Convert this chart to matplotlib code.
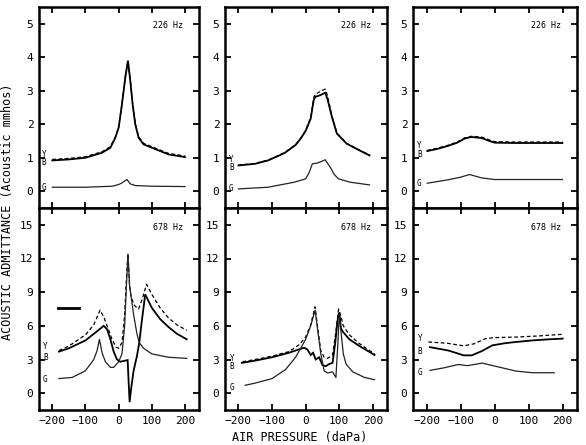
import matplotlib
matplotlib.use("Agg")
import matplotlib.pyplot as plt

plt.rcParams['font.family'] = ['DejaVu Sans Mono']

# ---------------- data ----------------
x_ticks = [-200, -100, 0, 100, 200]
top_yticks = [0, 1, 2, 3, 4, 5]
bot_yticks = [0, 3, 6, 9, 12, 15]
freq_top = "226 Hz"
freq_bot = "678 Hz"

# Top-left (226 Hz)
tl_bx = [-200, -150, -100, -50, -25, -10, 0, 10, 20, 28, 35, 42, 50, 60, 75, 100, 150, 200]
tl_b = [0.92, 0.95, 1.0, 1.15, 1.3, 1.6, 1.9, 2.6, 3.4, 3.9, 3.3, 2.6, 2.0, 1.6, 1.4, 1.3, 1.1, 1.02]
tl_yx = tl_bx
tl_y = [0.95, 0.98, 1.03, 1.18, 1.33, 1.62, 1.92, 2.62, 3.42, 3.88, 3.32, 2.62, 2.03, 1.63, 1.43, 1.33, 1.13, 1.05]
tl_gx = [-200, -100, -20, 0, 10, 25, 35, 50, 100, 200]
tl_g = [0.12, 0.12, 0.15, 0.2, 0.25, 0.35, 0.22, 0.17, 0.15, 0.14]

# Top-middle (226 Hz)
tm_bx = [-200, -150, -112, -63, -30, -15, 0, 15, 24, 29, 44, 58, 65, 78, 93, 122, 160, 190]
tm_b = [0.77, 0.82, 0.92, 1.14, 1.38, 1.57, 1.8, 2.17, 2.72, 2.82, 2.87, 2.94, 2.75, 2.22, 1.72, 1.42, 1.22, 1.07]
tm_yx = tm_bx
tm_y = [0.78, 0.83, 0.93, 1.15, 1.39, 1.58, 1.82, 2.2, 2.8, 2.9, 2.98, 3.05, 2.85, 2.25, 1.74, 1.43, 1.23, 1.08]
tm_gx = [-200, -112, -34, 0, 10, 20, 34, 45, 58, 73, 85, 98, 132, 190]
tm_g = [0.07, 0.12, 0.27, 0.37, 0.55, 0.82, 0.84, 0.88, 0.94, 0.72, 0.5, 0.37, 0.27, 0.19]

# Top-right (226 Hz)
tr_bx = [-198, -170, -138, -110, -89, -69, -39, -15, 0, 60, 120, 199]
tr_b = [1.2, 1.26, 1.35, 1.45, 1.57, 1.62, 1.59, 1.5, 1.45, 1.44, 1.44, 1.44]
tr_yx = tr_bx
tr_y = [1.22, 1.28, 1.37, 1.47, 1.59, 1.64, 1.62, 1.53, 1.48, 1.47, 1.47, 1.47]
tr_gx = [-198, -138, -100, -74, -39, 0, 60, 199]
tr_g = [0.24, 0.34, 0.42, 0.5, 0.4, 0.35, 0.35, 0.35]

# Bottom-left (678 Hz)
bl_bx = [-180, -150, -100, -70, -45, -35, -25, -15, -5, 5, 20, 27, 30, 33, 38, 45, 55, 62, 70, 80, 90, 100, 125, 150, 175, 205]
bl_b = [3.7, 4.0, 4.7, 5.4, 6.0, 5.7, 4.8, 3.7, 3.0, 2.8, 2.9, 2.95, 1.0, -0.8, 0.5, 2.0, 3.3, 4.5, 6.5, 8.8, 8.2, 7.6, 6.6, 5.9, 5.3, 4.8]
bl_yx = [-180, -150, -100, -75, -56, -45, -35, -20, -8, 0, 10, 18, 24, 28, 33, 38, 48, 60, 70, 84, 100, 125, 150, 175, 205]
bl_y = [3.8, 4.2, 5.2, 6.1, 7.4, 6.8, 6.0, 4.8, 4.1, 4.0, 4.5, 7.0, 10.5, 12.4, 9.5, 8.5, 7.8, 7.5, 8.3, 9.7, 8.8, 7.6, 6.7, 6.1, 5.6]
bl_gx = [-180, -140, -100, -75, -65, -58, -50, -40, -25, -15, 0, 10, 18, 24, 28, 33, 38, 45, 55, 62, 75, 100, 150, 205]
bl_g = [1.3, 1.4, 2.0, 3.0, 3.8, 4.8, 3.6, 2.8, 2.3, 2.3, 2.8, 3.5, 6.0, 10.0, 12.4, 9.5, 8.5, 7.0, 5.3, 4.5, 4.0, 3.5, 3.2, 3.1]
scale_bar_x = [-183, -120]
scale_bar_y = [7.6, 7.6]

# Bottom-middle (678 Hz)
bm_bx = [-190, -150, -100, -50, -20, -5, 5, 15, 22, 30, 40, 50, 60, 70, 80, 88, 95, 100, 105, 110, 130, 160, 205]
bm_b = [2.7, 2.9, 3.2, 3.6, 3.9, 4.05, 3.9, 3.4, 3.6, 3.0, 3.2, 2.5, 2.4, 2.6, 2.7, 4.5, 6.5, 7.2, 5.8, 5.5, 4.8, 4.2, 3.4]
bm_yx = [-188, -150, -100, -50, -20, 0, 15, 28, 35, 45, 55, 65, 80, 90, 98, 105, 112, 130, 156, 180, 205]
bm_y = [2.8, 3.0, 3.3, 3.7, 4.3, 5.0, 6.1, 7.7, 6.0, 3.8, 3.2, 3.1, 3.4, 5.5, 7.5, 6.8, 6.0, 5.2, 4.5, 4.0, 3.5]
bm_gx = [-180, -150, -100, -60, -30, 0, 15, 28, 35, 45, 55, 65, 80, 90, 96, 100, 105, 112, 120, 140, 175, 205]
bm_g = [0.7, 0.9, 1.3, 2.1, 3.2, 4.8, 6.0, 7.4, 5.8, 3.5, 2.0, 1.8, 1.9, 1.4, 4.5, 7.0, 5.5, 3.5, 2.6, 1.9, 1.4, 1.2]

# Bottom-right (678 Hz)
br_bx = [-190, -136, -91, -67, -37, -7, 30, 62, 111, 160, 200]
br_b = [4.1, 3.8, 3.37, 3.37, 3.76, 4.26, 4.45, 4.56, 4.7, 4.8, 4.86]
br_yx = [-195, -140, -91, -60, -27, 0, 62, 130, 200]
br_y = [4.56, 4.45, 4.22, 4.4, 4.86, 4.95, 5.0, 5.1, 5.25]
br_gx = [-190, -150, -106, -81, -37, 12, 62, 111, 175]
br_g = [2.03, 2.25, 2.56, 2.45, 2.68, 2.33, 1.97, 1.82, 1.82]

panels = [
    dict(b=(tl_bx, tl_b), y=(tl_yx, tl_y), g=(tl_gx, tl_g),
         lab=[(-232, 1.1, "Y"), (-232, 0.85, "B"), (-232, 0.1, "G")]),
    dict(b=(tm_bx, tm_b), y=(tm_yx, tm_y), g=(tm_gx, tm_g),
         lab=[(-228, 0.95, "Y"), (-228, 0.7, "B"), (-228, 0.08, "G")]),
    dict(b=(tr_bx, tr_b), y=(tr_yx, tr_y), g=(tr_gx, tr_g),
         lab=[(-228, 1.37, "Y"), (-228, 1.1, "B"), (-228, 0.22, "G")]),
    dict(b=(bl_bx, bl_b), y=(bl_yx, bl_y), g=(bl_gx, bl_g),
         lab=[(-228, 4.2, "Y"), (-228, 3.15, "B"), (-228, 1.18, "G")]),
    dict(b=(bm_bx, bm_b), y=(bm_yx, bm_y), g=(bm_gx, bm_g),
         lab=[(-226, 3.07, "Y"), (-226, 2.4, "B"), (-226, 0.48, "G")]),
    dict(b=(br_bx, br_b), y=(br_yx, br_y), g=(br_gx, br_g),
         lab=[(-226, 4.9, "Y"), (-226, 3.67, "B"), (-226, 1.88, "G")]),
]

# ---------------- layout ----------------
W, H = 586, 445
fig = plt.figure(figsize=(W / 100, H / 100), dpi=100)
cols = [(39, 199), (225, 387), (413, 577)]
rows = [(7, 208), (208, 410)]

for i, p in enumerate(panels):
    r, c = divmod(i, 3)
    x0, x1 = cols[c]
    y0, y1 = rows[r]
    ax = fig.add_axes([x0 / W, 1 - y1 / H, (x1 - x0) / W, (y1 - y0) / H])
    ax.plot(*p['b'], color='black', lw=1.3, solid_joinstyle='miter')
    ax.plot(*p['y'], color='black', lw=0.9, dashes=(3, 2))
    ax.plot(*p['g'], color='#222222', lw=0.9)
    for (tx, ty, s) in p['lab']:
        ax.text(tx, ty, s, fontsize=5.5, ha='left', va='center')
    ax.set_xlim(-240, 242)
    ax.set_xticks(x_ticks)
    if r == 0:
        ax.set_ylim(-0.5, 5.5)
        ax.set_yticks(top_yticks)
        ax.tick_params(axis='x', labelbottom=False)
        ax.text(195, 4.95, freq_top, fontsize=6, ha='right', va='center')
    else:
        ax.set_ylim(-1.5, 16.5)
        ax.set_yticks(bot_yticks)
        ax.text(195, 14.75, freq_bot, fontsize=6, ha='right', va='center')
    if i == 3:
        ax.plot(scale_bar_x, scale_bar_y, color='black', lw=2)
    ax.tick_params(direction='in', top=True, right=True, length=4, width=1.3,
                   labelsize=8, pad=4)
    for s in ax.spines.values():
        s.set_linewidth(1.8)

fig.text(8 / W, 1 - 212 / H, "ACOUSTIC ADMITTANCE (Acoustic mmhos)", rotation=90,
         fontsize=8.5, ha='center', va='center')
fig.text(300 / W, 1 - 437 / H, "AIR PRESSURE (daPa)", fontsize=8.5,
         ha='center', va='center')

fig.savefig("out.png", dpi=100)
